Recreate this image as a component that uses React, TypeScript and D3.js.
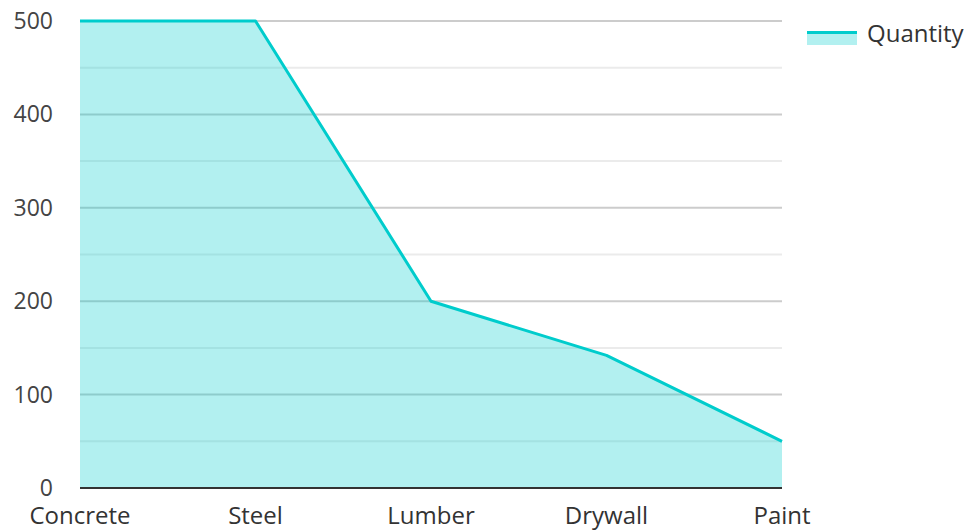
import { useEffect, useRef } from "react";
import * as d3 from "d3";

const categories = ["Concrete", "Steel", "Lumber", "Drywall", "Paint"];
const quantity = [500, 500, 200, 142, 50];
const yTicks = [0, 100, 200, 300, 400, 500];
const minorTicks = [50, 150, 250, 350, 450];
const seriesName = "Quantity";

export default function App() {
  const ref = useRef<SVGSVGElement | null>(null);

  useEffect(() => {
    document.body.style.margin = "0";
    if (!ref.current) return;
    const svg = d3.select(ref.current);
    svg.selectAll("*").remove();

    const width = 971;
    const height = 531;
    const m = { left: 80, right: 189, top: 21, bottom: 43 };
    const font = "'Open Sans', 'Noto Sans', sans-serif";
    const teal = "#00cccc";
    const fs = 24;

    const x = d3
      .scalePoint()
      .domain(categories)
      .range([m.left, width - m.right]);
    const y = d3
      .scaleLinear()
      .domain([0, 500])
      .range([height - m.bottom, m.top]);

    svg.attr("width", width).attr("height", height).attr("viewBox", `0 0 ${width} ${height}`);

    // grid
    svg
      .append("g")
      .selectAll("line.minor")
      .data(minorTicks)
      .join("line")
      .attr("x1", m.left)
      .attr("x2", width - m.right)
      .attr("y1", (d) => y(d))
      .attr("y2", (d) => y(d))
      .attr("stroke", "#ebebeb")
      .attr("stroke-width", 2);

    svg
      .append("g")
      .selectAll("line.major")
      .data(yTicks.filter((d) => d > 0))
      .join("line")
      .attr("x1", m.left)
      .attr("x2", width - m.right)
      .attr("y1", (d) => y(d))
      .attr("y2", (d) => y(d))
      .attr("stroke", "#cccccc")
      .attr("stroke-width", 2);

    const pts = categories.map((c, i) => [x(c) ?? 0, y(quantity[i])] as [number, number]);

    const area = d3
      .area<[number, number]>()
      .x((d) => d[0])
      .y0(y(0))
      .y1((d) => d[1]);
    svg.append("path").attr("d", area(pts)).attr("fill", teal).attr("fill-opacity", 0.3);

    // x axis line
    svg
      .append("line")
      .attr("x1", m.left)
      .attr("x2", width - m.right)
      .attr("y1", y(0))
      .attr("y2", y(0))
      .attr("stroke", "#333")
      .attr("stroke-width", 2);

    const line = d3
      .line<[number, number]>()
      .x((d) => d[0])
      .y((d) => d[1]);
    svg
      .append("path")
      .attr("d", line(pts))
      .attr("fill", "none")
      .attr("stroke", teal)
      .attr("stroke-width", 3)
      .attr("stroke-linejoin", "round");

    // y labels
    svg
      .append("g")
      .selectAll("text")
      .data(yTicks)
      .join("text")
      .attr("x", 53)
      .attr("y", (d) => y(d))
      .attr("dy", "0.35em")
      .attr("text-anchor", "end")
      .attr("font-family", font)
      .attr("font-size", 23)
      .attr("fill", "#444")
      .text((d) => String(d));

    // x labels
    svg
      .append("g")
      .selectAll("text")
      .data(categories)
      .join("text")
      .attr("x", (d) => x(d) ?? 0)
      .attr("y", 524)
      .attr("text-anchor", "middle")
      .attr("font-family", font)
      .attr("font-size", fs)
      .attr("fill", "#333")
      .text((d) => d);

    // legend
    const lg = svg.append("g").attr("transform", "translate(807,33)");
    lg.append("rect").attr("x", 0).attr("y", 0).attr("width", 50).attr("height", 12).attr("fill", teal).attr("fill-opacity", 0.3);
    lg.append("rect").attr("x", 0).attr("y", -2).attr("width", 50).attr("height", 3).attr("fill", teal);
    lg.append("text")
      .attr("x", 60)
      .attr("y", 1)
      .attr("dy", "0.35em")
      .attr("font-family", font)
      .attr("font-size", fs)
      .attr("fill", "#333")
      .text(seriesName);
  }, []);

  return <svg ref={ref} />;
}
